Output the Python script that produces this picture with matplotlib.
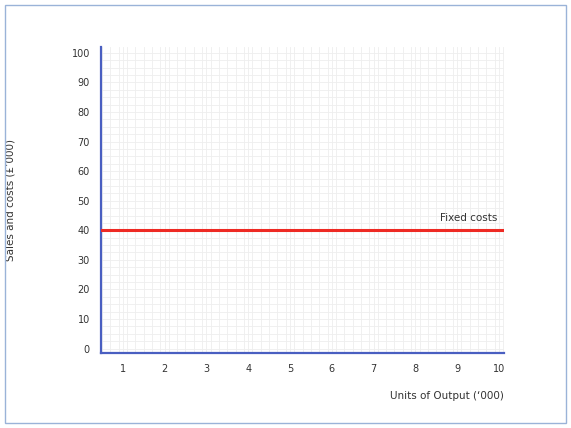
import numpy as np
import matplotlib.pyplot as plt
from matplotlib.patches import Rectangle

# data
units = [1, 2, 3, 4, 5, 6, 7, 8, 9, 10]
fixed_costs = [40] * 10
yticks = list(range(0, 101, 10))

fig = plt.figure(figsize=(5.71, 4.28), dpi=100)
ax = fig.add_axes([101/571, 75/428, 403/571, 306/428])

ax.plot([0.48, 10.12], [fixed_costs[0], fixed_costs[-1]], color='#ee2a24', lw=2.2, zorder=3)
ax.text(9.95, 42.5, 'Fixed costs', ha='right', va='bottom', fontsize=7.5, color='#333333')

ax.set_xlim(0.48, 10.12)
ax.set_ylim(-1.5, 102)
ax.set_xticks(units)
ax.set_yticks(yticks)
ax.set_xticks(np.arange(0.5, 10.2, 0.2), minor=True)
ax.set_yticks(np.arange(0, 102, 2.5), minor=True)
ax.grid(which='both', color='#eeeeee', lw=0.6)
ax.set_axisbelow(True)
ax.tick_params(which='both', length=0, labelsize=7, colors='#333333', pad=8)
for s in ['top', 'right']:
    ax.spines[s].set_visible(False)
for s in ['left', 'bottom']:
    ax.spines[s].set_color('#4a5fc1')
    ax.spines[s].set_linewidth(1.6)

ax.set_xlabel("Units of Output (\u2018000)", fontsize=7.5, color='#333333', loc='right', labelpad=12)
ax.set_ylabel("Sales and costs (\u00a3\u2019000)", fontsize=7.5, color='#333333', labelpad=40)

fig.patches.append(Rectangle((5/571, 5/428), 561/571, 418/428, transform=fig.transFigure,
                             fill=False, edgecolor='#9ab3d8', lw=1))
fig.savefig('out.png', dpi=100)
